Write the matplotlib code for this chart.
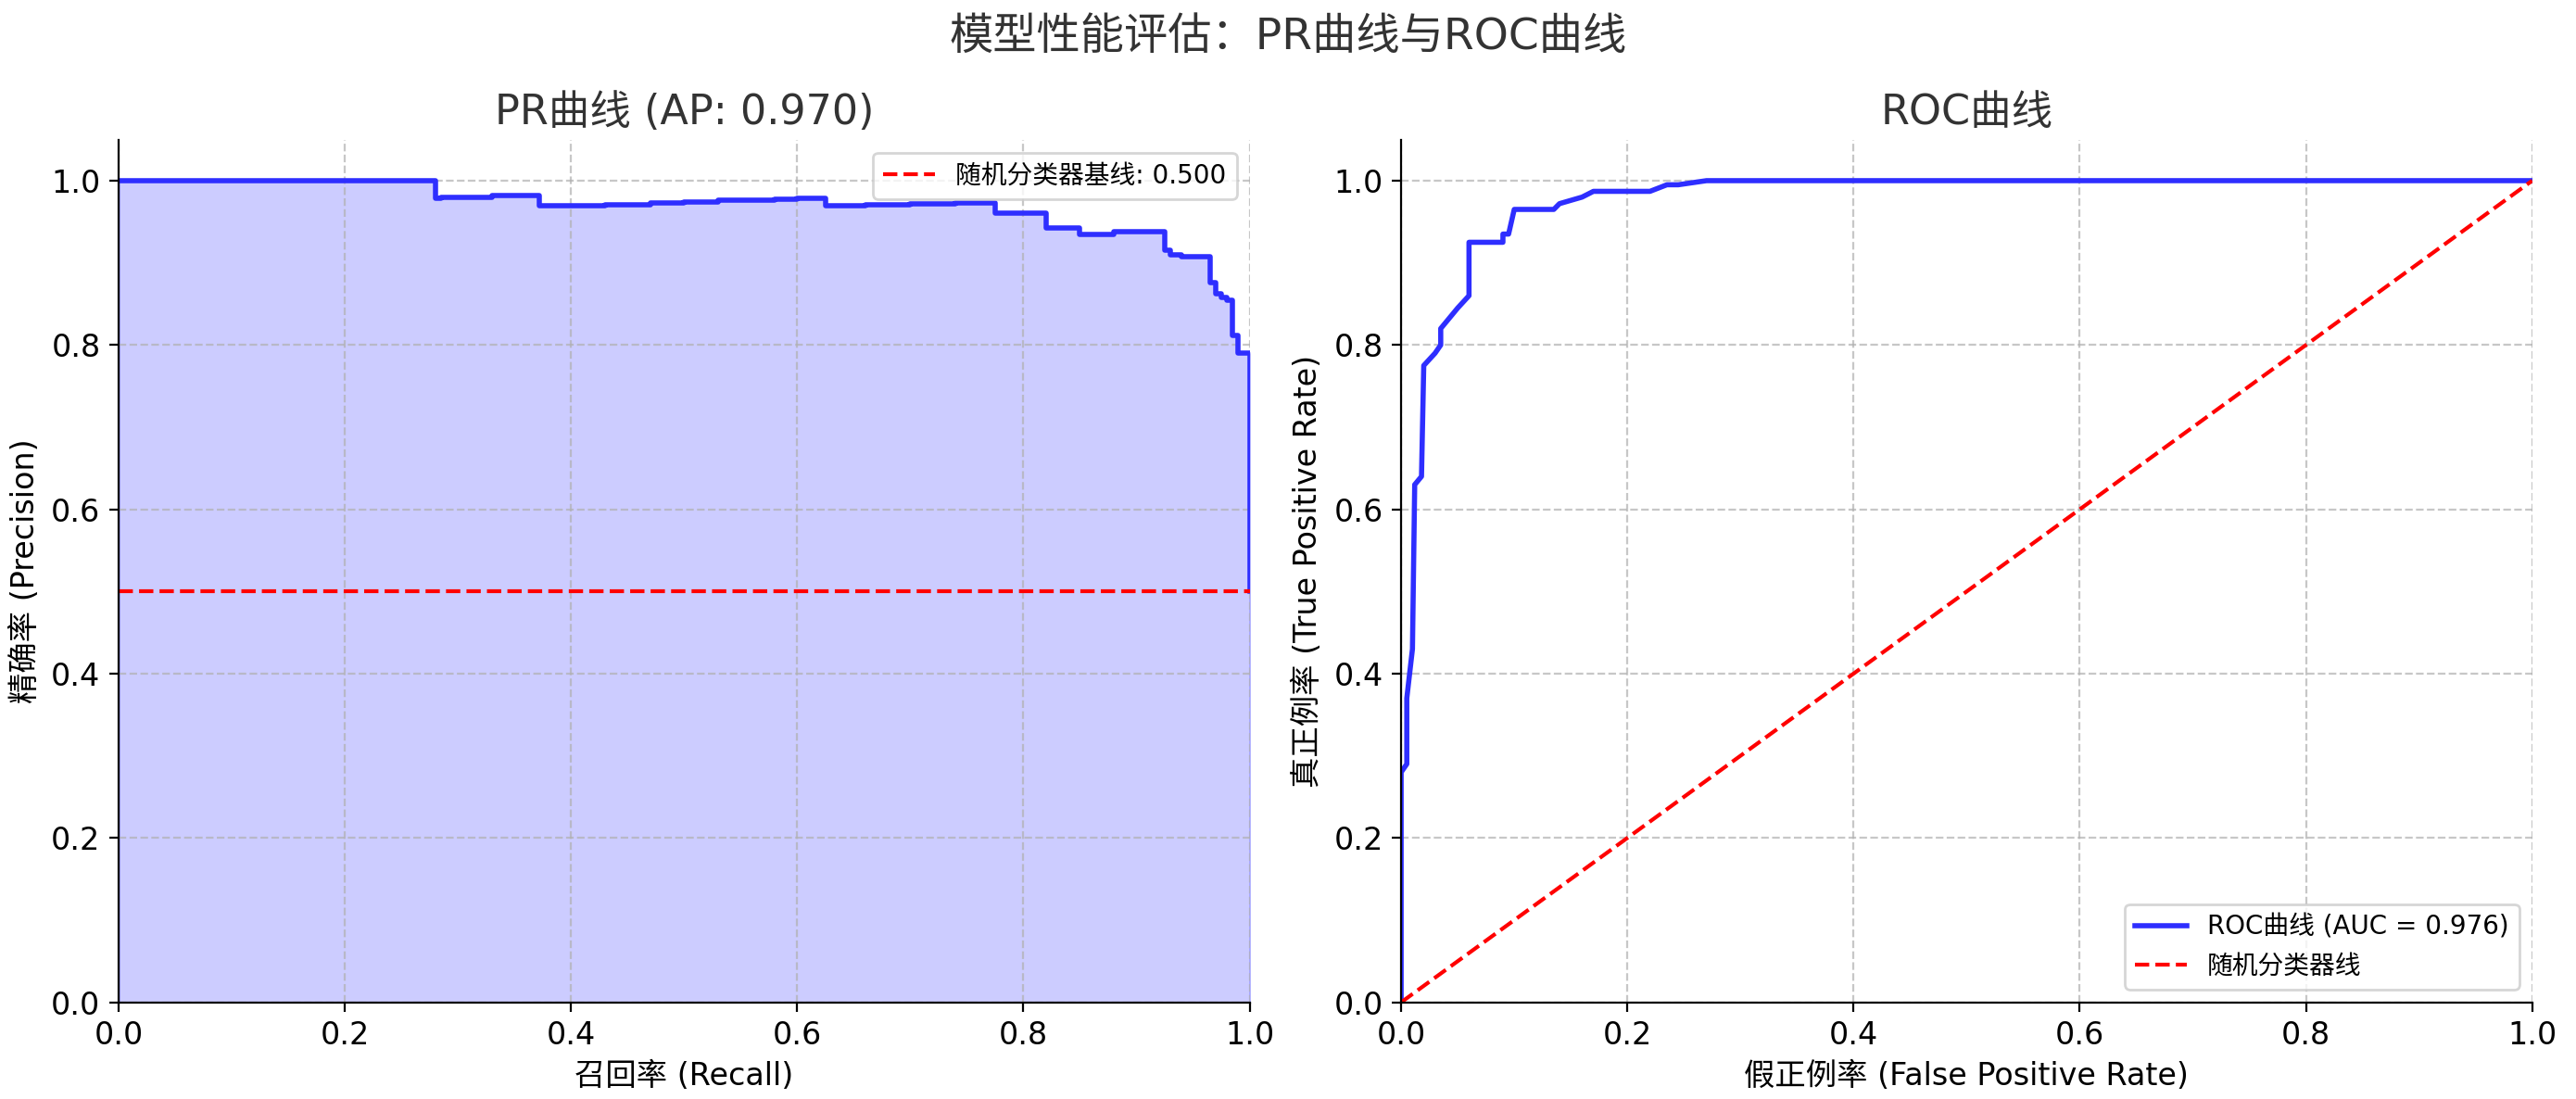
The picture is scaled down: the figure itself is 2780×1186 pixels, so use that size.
import matplotlib
matplotlib.use("Agg")
import matplotlib.pyplot as plt

plt.rcParams['font.family'] = ['DejaVu Sans', 'Noto Sans CJK SC']

recall = [0.0, 0.28, 0.285, 0.33, 0.372, 0.43, 0.47, 0.5, 0.53, 0.58, 0.6, 0.625, 0.66, 0.7, 0.74, 0.775,
          0.8, 0.82, 0.85, 0.88, 0.925, 0.93, 0.94, 0.965, 0.97, 0.975, 0.98, 0.985, 0.99, 1.0]
precision = [1.0, 0.978, 0.98, 0.982, 0.970, 0.971, 0.973, 0.974, 0.976, 0.977, 0.978, 0.970, 0.971, 0.972,
             0.973, 0.960, 0.961, 0.942, 0.935, 0.938, 0.915, 0.910, 0.907, 0.876, 0.862, 0.858, 0.855,
             0.812, 0.790, 0.790]
ap = 0.970
baseline = 0.5

fpr = [0.0, 0.0, 0.005, 0.005, 0.01, 0.012, 0.018, 0.02, 0.03, 0.035, 0.035, 0.05, 0.06, 0.06, 0.09, 0.09,
       0.095, 0.1, 0.135, 0.14, 0.16, 0.17, 0.22, 0.235, 0.245, 0.27, 1.0]
tpr = [0.0, 0.28, 0.29, 0.37, 0.43, 0.63, 0.64, 0.775, 0.79, 0.8, 0.82, 0.845, 0.86, 0.925, 0.925, 0.935,
       0.935, 0.965, 0.965, 0.972, 0.98, 0.987, 0.987, 0.995, 0.995, 1.0, 1.0]
auc = 0.976

fig, (ax1, ax2) = plt.subplots(1, 2, figsize=(13.9, 5.93), dpi=200)
fig.suptitle('模型性能评估：PR曲线与ROC曲线', fontsize=17, color='#333333', y=0.985)

ax1.step(recall + [1.0], precision + [baseline], where='post', color='#2e2eff', lw=2)
ax1.fill_between(recall, precision, step='post', color='blue', alpha=0.2)
ax1.axhline(baseline, color='red', ls='--', lw=1.5, label=f'随机分类器基线: {baseline:.3f}')
ax1.set_xlim(0, 1)
ax1.set_ylim(0, 1.05)
ax1.set_xlabel('召回率 (Recall)', fontsize=12)
ax1.set_ylabel('精确率 (Precision)', fontsize=12)
ax1.set_title(f'PR曲线 (AP: {ap:.3f})', fontsize=16, color='#333333')
ax1.legend(loc='upper right', fontsize=10)

ax2.plot(fpr, tpr, color='#2e2eff', lw=2, label=f'ROC曲线 (AUC = {auc:.3f})')
ax2.plot([0, 1], [0, 1], color='red', ls='--', lw=1.5, label='随机分类器线')
ax2.set_xlim(0, 1)
ax2.set_ylim(0, 1.05)
ax2.set_xlabel('假正例率 (False Positive Rate)', fontsize=12)
ax2.set_ylabel('真正例率 (True Positive Rate)', fontsize=12)
ax2.set_title('ROC曲线', fontsize=16, color='#333333')
ax2.legend(loc='lower right', fontsize=10)

for ax in (ax1, ax2):
    ax.grid(True, ls='--', alpha=0.7)
    ax.tick_params(labelsize=12)
    ax.spines['top'].set_visible(False)
    ax.spines['right'].set_visible(False)

fig.subplots_adjust(left=0.046, right=0.983, bottom=0.088, top=0.873, wspace=0.134)
fig.savefig('out.png')
